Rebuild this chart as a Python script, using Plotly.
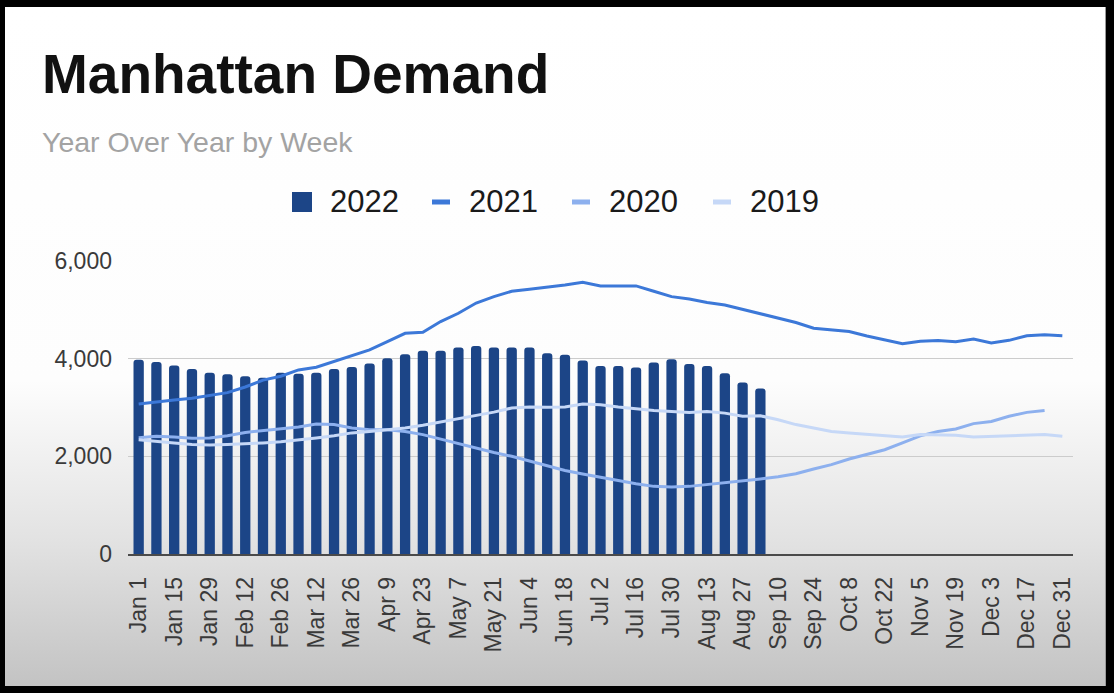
import base64
import plotly.graph_objects as go

# ---------------- data ----------------
weeks = ["Jan 1", "Jan 8", "Jan 15", "Jan 22", "Jan 29", "Feb 5", "Feb 12", "Feb 19", "Feb 26",
         "Mar 5", "Mar 12", "Mar 19", "Mar 26", "Apr 2", "Apr 9", "Apr 16", "Apr 23", "Apr 30",
         "May 7", "May 14", "May 21", "May 28", "Jun 4", "Jun 11", "Jun 18", "Jun 25",
         "Jul 2", "Jul 9", "Jul 16", "Jul 23", "Jul 30", "Aug 6", "Aug 13", "Aug 20", "Aug 27",
         "Sep 3", "Sep 10", "Sep 17", "Sep 24", "Oct 1", "Oct 8", "Oct 15", "Oct 22", "Oct 29",
         "Nov 5", "Nov 12", "Nov 19", "Nov 26", "Dec 3", "Dec 10", "Dec 17", "Dec 24", "Dec 31"]

tick_labels = ["Jan 1", "Jan 15", "Jan 29", "Feb 12", "Feb 26", "Mar 12", "Mar 26", "Apr 9",
               "Apr 23", "May 7", "May 21", "Jun 4", "Jun 18", "Jul 2", "Jul 16", "Jul 30",
               "Aug 13", "Aug 27", "Sep 10", "Sep 24", "Oct 8", "Oct 22", "Nov 5", "Nov 19",
               "Dec 3", "Dec 17", "Dec 31"]

demand_2022 = [3980, 3930, 3860, 3790, 3710, 3680, 3640, 3610, 3710, 3690, 3710, 3790,
               3830, 3900, 4010, 4090, 4160, 4160, 4230, 4260, 4230, 4230, 4230, 4110,
               4080, 3960, 3850, 3850, 3820, 3920, 3990, 3890, 3850, 3700, 3510, 3390]

demand_2021 = [3070, 3120, 3155, 3190, 3240, 3305, 3420, 3560, 3640, 3770, 3825, 3940,
               4060, 4180, 4350, 4520, 4540, 4760, 4930, 5140, 5270, 5380, 5420, 5460,
               5510, 5565, 5490, 5490, 5490, 5380, 5270, 5220, 5150, 5100, 5010, 4910,
               4830, 4740, 4625, 4590, 4555, 4465, 4390, 4305, 4355, 4370, 4345, 4400,
               4320, 4375, 4470, 4490, 4470]

demand_2020 = [2380, 2410, 2395, 2370, 2375, 2420, 2490, 2530, 2560, 2600, 2660, 2650,
               2580, 2545, 2545, 2510, 2445, 2355, 2250, 2170, 2080, 2000, 1900, 1795,
               1710, 1640, 1570, 1500, 1440, 1385, 1370, 1385, 1420, 1465, 1500, 1536,
               1580, 1645, 1740, 1830, 1945, 2035, 2135, 2275, 2420, 2510, 2560, 2670,
               2715, 2820, 2900, 2940]

demand_2019 = [2340, 2300, 2275, 2240, 2230, 2240, 2250, 2275, 2300, 2330, 2375, 2420,
               2480, 2510, 2545, 2580, 2635, 2700, 2770, 2830, 2905, 2990, 3010, 3005,
               3010, 3070, 3055, 3010, 2970, 2940, 2920, 2900, 2920, 2885, 2820, 2830,
               2750, 2650, 2580, 2510, 2480, 2455, 2425, 2395, 2445, 2445, 2430, 2395,
               2410, 2425, 2445, 2445, 2410]

series_names = ["2022", "2021", "2020", "2019"]
series_colors = ["#1c4587", "#3c78d8", "#8db0ee", "#c6d8f7"]

# ---------------- geometry helpers (pixels -> paper) ----------------
W, H = 1114, 693
L, R, T, B = 128, 1073, 261, 554
PW, PH = R - L, B - T


def px(x):
    return (x - L) / PW


def py(y):
    return (B - y) / PH


# background: black frame, white panel fading to gray at the bottom
svg = f"""<svg xmlns='http://www.w3.org/2000/svg' width='{W}' height='{H}' viewBox='0 0 {W} {H}'>
<defs><linearGradient id='g' x1='0' y1='0' x2='0' y2='1'>
<stop offset='0' stop-color='#ffffff'/>
<stop offset='0.55' stop-color='#fdfdfd'/>
<stop offset='0.78' stop-color='#e3e3e3'/>
<stop offset='1' stop-color='#c3c3c3'/>
</linearGradient></defs>
<rect x='0' y='0' width='{W}' height='{H}' fill='#000000'/>
<rect x='5' y='7' width='1101' height='679' fill='url(#g)'/>
<rect x='1105' y='7' width='1' height='679' fill='#9a9a9a'/>
</svg>"""
bg_uri = "data:image/svg+xml;base64," + base64.b64encode(svg.encode()).decode()

fig = go.Figure()

fig.add_trace(go.Bar(
    x=weeks[:len(demand_2022)], y=demand_2022, name=series_names[0],
    marker=dict(color=series_colors[0], line=dict(width=0), cornerradius=3),
    showlegend=False,
))
for name, color, vals in [(series_names[1], series_colors[1], demand_2021),
                          (series_names[2], series_colors[2], demand_2020),
                          (series_names[3], series_colors[3], demand_2019)]:
    fig.add_trace(go.Scatter(
        x=weeks[:len(vals)], y=vals, name=name, mode="lines",
        line=dict(color=color, width=3), showlegend=False,
    ))

# ---------------- custom legend ----------------
shapes = []
annotations = []
leg_y = 202
sym_x = [302, 441, 581, 722]
txt_x = [328, 467, 607, 748]
for i, (name, color) in enumerate(zip(series_names, series_colors)):
    if i == 0:
        shapes.append(dict(type="rect", xref="paper", yref="paper",
                           x0=px(sym_x[i] - 10), x1=px(sym_x[i] + 10),
                           y0=py(leg_y + 10), y1=py(leg_y - 10),
                           fillcolor=color, line=dict(width=0)))
    else:
        shapes.append(dict(type="rect", xref="paper", yref="paper",
                           x0=px(sym_x[i] - 9), x1=px(sym_x[i] + 9),
                           y0=py(leg_y + 2.5), y1=py(leg_y - 2.5),
                           fillcolor=color, line=dict(width=0)))
    annotations.append(dict(text=name, xref="paper", yref="paper",
                            x=px(txt_x[i]), y=py(leg_y), xanchor="left", yanchor="middle",
                            showarrow=False,
                            font=dict(family="Liberation Sans, Arial", size=31, color="#1a1a1a")))

annotations.append(dict(text="<b>Manhattan Demand</b>", xref="paper", yref="paper",
                        x=px(40), y=py(74), xanchor="left", yanchor="middle", showarrow=False,
                        font=dict(family="Liberation Sans, Arial", size=55, color="#111111")))
annotations.append(dict(text="Year Over Year by Week", xref="paper", yref="paper",
                        x=px(40), y=py(142), xanchor="left", yanchor="middle", showarrow=False,
                        font=dict(family="Liberation Sans, Arial", size=28.5, color="#a3a3a3")))

fig.update_layout(
    width=W, height=H,
    margin=dict(l=L, r=W - R, t=T, b=H - B, pad=0),
    paper_bgcolor="#000000",
    plot_bgcolor="rgba(0,0,0,0)",
    bargap=0.42,
    showlegend=False,
    shapes=shapes,
    annotations=annotations,
    images=[dict(source=bg_uri, xref="paper", yref="paper",
                 x=px(0), y=py(0), sizex=W / PW, sizey=H / PH,
                 xanchor="left", yanchor="top", sizing="stretch", layer="below")],
    font=dict(family="Liberation Sans, Arial", color="#444444"),
)

fig.update_xaxes(
    type="category", categoryorder="array", categoryarray=weeks,
    range=[-0.6, 52.6],
    tickmode="array", tickvals=tick_labels, ticktext=tick_labels,
    tickangle=-90, tickfont=dict(size=23, color="#3a3a3a"),
    showgrid=False, zeroline=False,
    showline=True, linecolor="#4a4a4a", linewidth=1.5,
    ticks="", ticklabelstandoff=12,
)
fig.update_yaxes(
    range=[0, 6000], tickvals=[0, 2000, 4000, 6000],
    ticktext=["0", "2,000", "4,000", "6,000"],
    tickfont=dict(size=23, color="#3a3a3a"),
    showgrid=True, gridcolor="#cccccc", gridwidth=1,
    zeroline=False, showline=False, ticks="", ticklabelstandoff=15,
)

fig.write_html("out.html")
